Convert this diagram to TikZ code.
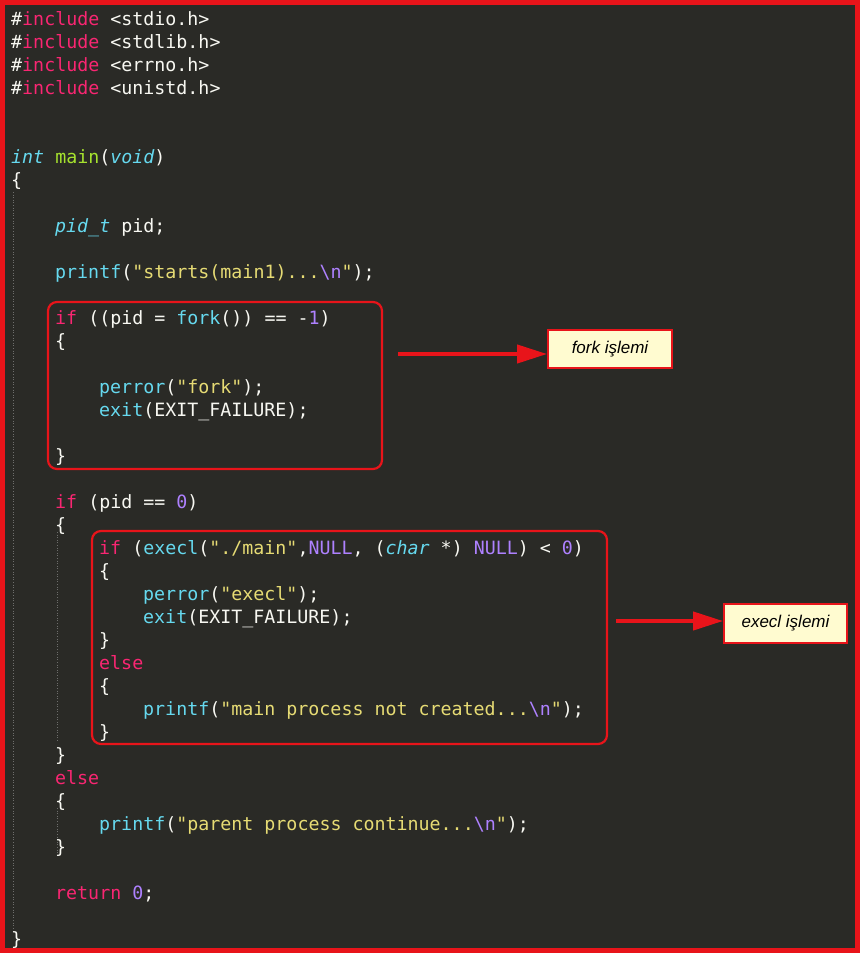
\documentclass[tikz,border=0pt]{standalone}
\usepackage{fontspec}
\setmonofont{DejaVu Sans Mono}
\setsansfont{Liberation Sans}
\usetikzlibrary{arrows.meta}
\definecolor{bgc}{HTML}{2A2A26}
\definecolor{kwc}{HTML}{F92672}
\definecolor{fnc}{HTML}{66D9EF}
\definecolor{stc}{HTML}{E6DB74}
\definecolor{nmc}{HTML}{AE81FF}
\definecolor{gnc}{HTML}{A6E22E}
\definecolor{txc}{HTML}{F8F8F2}
\definecolor{redc}{HTML}{E8141A}
\definecolor{lblc}{HTML}{FFFBD0}
\newcommand{\kw}[1]{\textcolor{kwc}{#1}}
\newcommand{\fn}[1]{\textcolor{fnc}{#1}}
\newcommand{\ty}[1]{\textcolor{fnc}{\itshape #1}}
\newcommand{\st}[1]{\textcolor{stc}{#1}}
\newcommand{\nm}[1]{\textcolor{nmc}{#1}}
\newcommand{\gn}[1]{\textcolor{gnc}{#1}}
\newcommand{\codeln}[3]{\node[code] (#1) at (#2) {#3};}
\tikzset{
  code/.style={anchor=base west,inner sep=0pt,text=txc,font=\ttfamily\fontsize{18.3}{20}\selectfont},
  hlbox/.style={draw=redc,line width=2.2pt,rounded corners=9pt},
  lbl/.style={draw=redc,line width=1.8pt,fill=lblc,font=\sffamily\itshape\fontsize{17}{19}\selectfont,inner sep=0pt,text=black},
  arr/.style={draw=redc,line width=4pt,-{Triangle[length=30pt,width=18pt]}},
  guide/.style={draw=gray!60,opacity=0.5,dotted,line width=0.6pt}
}
\begin{document}
\begin{tikzpicture}[x=1pt,y=-1pt]
\fill[bgc] (0,0) rectangle (860,953);
\useasboundingbox (0,0) rectangle (860,953);
\draw[guide] (13,192) -- (13,928);
\draw[guide] (57,532) -- (57,742);
\draw[guide] (57,808) -- (57,856);
\codeln{l1}{11,25}{\#\kw{include} <stdio.h>}
\codeln{l2}{11,48}{\#\kw{include} <stdlib.h>}
\codeln{l3}{11,71}{\#\kw{include} <errno.h>}
\codeln{l4}{11,94}{\#\kw{include} <unistd.h>}
\codeln{l5}{11,163}{\ty{int} \gn{main}(\ty{void})}
\codeln{l6}{11,186}{\{}
\codeln{l7}{55,232}{\ty{pid\_t} pid;}
\codeln{l8}{55,278}{\fn{printf}(\st{"starts(main1)...}\nm{\textbackslash n}\st{"});}
\codeln{l9}{55,324}{\kw{if} ((pid = \fn{fork}()) == -\nm{1})}
\codeln{l10}{55,347}{\{}
\codeln{l11}{99,393}{\fn{perror}(\st{"fork"});}
\codeln{l12}{99,416}{\fn{exit}(EXIT\_FAILURE);}
\codeln{l13}{55,462}{\}}
\codeln{l14}{55,508}{\kw{if} (pid == \nm{0})}
\codeln{l15}{55,531}{\{}
\codeln{l16}{99,554}{\kw{if} (\fn{execl}(\st{"./main"},\nm{NULL}, (\ty{char} *) \nm{NULL}) < \nm{0})}
\codeln{l17}{99,577}{\{}
\codeln{l18}{143,600}{\fn{perror}(\st{"execl"});}
\codeln{l19}{143,623}{\fn{exit}(EXIT\_FAILURE);}
\codeln{l20}{99,646}{\}}
\codeln{l21}{99,669}{\kw{else}}
\codeln{l22}{99,692}{\{}
\codeln{l23}{143,715}{\fn{printf}(\st{"main process not created...}\nm{\textbackslash n}\st{"});}
\codeln{l24}{99,738}{\}}
\codeln{l25}{55,761}{\}}
\codeln{l26}{55,784}{\kw{else}}
\codeln{l27}{55,807}{\{}
\codeln{l28}{99,830}{\fn{printf}(\st{"parent process continue...}\nm{\textbackslash n}\st{"});}
\codeln{l29}{55,853}{\}}
\codeln{l30}{55,899}{\kw{return} \nm{0};}
\codeln{l31}{11,945}{\}}
\draw[hlbox] (48,302) rectangle (382,469);
\draw[hlbox] (92,531) rectangle (607,744);
\node[lbl,minimum width=124pt,minimum height=38pt] (fk) at (610,349) {fork işlemi};
\node[lbl,minimum width=123pt,minimum height=39pt] (ex) at (785.5,623.5) {execl işlemi};
\coordinate (fa) at (398,354);
\coordinate (ea) at (616,621);
\draw[arr] (fa) -- (fk.west |- fa);
\draw[arr] (ea) -- (ex.west |- ea);
\draw[redc,line width=5pt] (2.5,2.5) rectangle (857.5,950.5);
\end{tikzpicture}
\end{document}
